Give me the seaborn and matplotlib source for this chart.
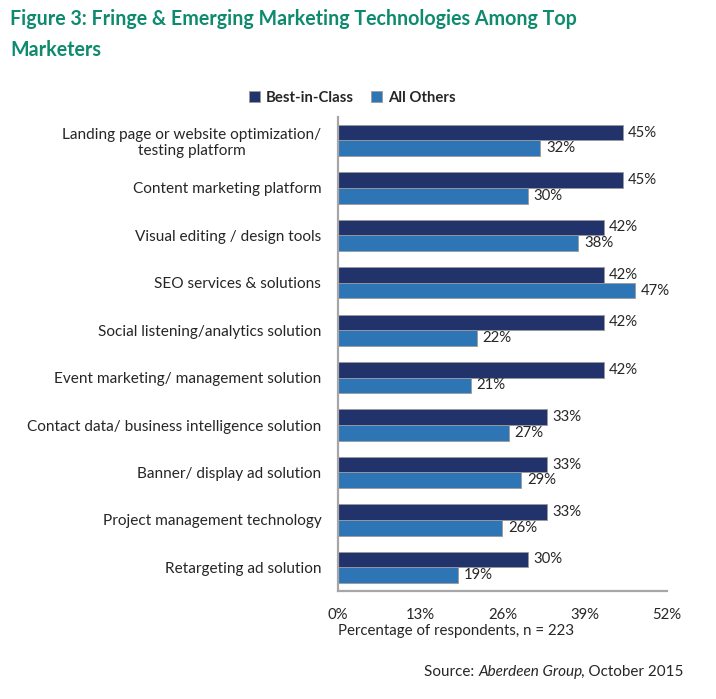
import pandas as pd
import seaborn as sns
import matplotlib.pyplot as plt
from matplotlib.patches import Patch

# Data
categories = [
    "Landing page or website optimization/\ntesting platform",
    "Content marketing platform",
    "Visual editing / design tools",
    "SEO services & solutions",
    "Social listening/analytics solution",
    "Event marketing/ management solution",
    "Contact data/ business intelligence solution",
    "Banner/ display ad solution",
    "Project management technology",
    "Retargeting ad solution",
]
best_in_class = [45, 45, 42, 42, 42, 42, 33, 33, 33, 30]
all_others = [32, 30, 38, 47, 22, 21, 27, 29, 26, 19]
groups = ["Best-in-Class", "All Others"]
x_ticks = [0, 13, 26, 39, 52]

sns.set_theme(style="white")
plt.rcParams['font.family'] = ['Lato', 'DejaVu Sans']

df = pd.DataFrame({
    "Category": categories * 2,
    "Group": [groups[0]] * len(categories) + [groups[1]] * len(categories),
    "Value": best_in_class + all_others,
})

palette = {"Best-in-Class": "#22336B", "All Others": "#2E75B6"}
text_col = "#262626"

fig = plt.figure(figsize=(7.16, 6.99), dpi=100)
ax = fig.add_axes([0.472, 0.1545, 0.4595, 0.6785])

sns.barplot(data=df, y="Category", x="Value", hue="Group", palette=palette,
            orient="h", width=0.66, saturation=1, edgecolor="#9a9a9a",
            linewidth=0.6, legend=False, ax=ax)

for cont in ax.containers:
    ax.bar_label(cont, fmt="%d%%", padding=4, fontsize=10.7, color=text_col)

ax.set_xlim(0, 52)
ax.set_ylim(len(categories) - 0.5, -0.5)
ax.set_xticks(x_ticks)
ax.set_xticklabels([f"{t}%" for t in x_ticks], fontsize=10.7, color=text_col)
ax.tick_params(axis="y", labelsize=11.1, labelcolor=text_col, length=0, pad=12)
ax.tick_params(axis="x", length=0, pad=12)
ax.set_ylabel("")
ax.set_xlabel("Percentage of respondents, n = 223", loc="left", fontsize=10.8,
              color=text_col, labelpad=2)
for lab in ax.get_yticklabels():
    lab.set_horizontalalignment("right")
    lab.set_multialignment("center")

sns.despine(ax=ax)
for s in ("left", "bottom"):
    ax.spines[s].set_color("#a6a6a6")
    ax.spines[s].set_linewidth(1.6)

# legend above the plot
handles = [Patch(facecolor=palette[g], edgecolor="#9a9a9a", linewidth=0.6) for g in groups]
leg = fig.legend(handles, groups, loc="center", bbox_to_anchor=(0.492, 0.860),
                 ncol=2, frameon=False, handlelength=0.7, handleheight=0.7,
                 handletextpad=0.4, columnspacing=1.2,
                 prop={"size": 10.7, "weight": "bold"})
for t in leg.get_texts():
    t.set_color(text_col)

# title
fig.text(0.014, 1 - 9 / 699, "Figure 3: Fringe & Emerging Marketing Technologies Among Top\nMarketers",
         ha="left", va="top", fontsize=14.1, fontweight="bold", color="#0E8A6E",
         linespacing=1.68)

# source line, built right to left so the italic part sits inline
fig.canvas.draw()
r = fig.canvas.get_renderer()
y_src = 1 - 672 / 699
x_right = 683 / 716
pieces = [(", October 2015", "normal", 2), ("Aberdeen Group", "italic", 0), ("Source: ", "normal", 0)]
for txt, style, nudge in pieces:
    t = fig.text(x_right, y_src, txt, ha="right", va="center", fontsize=11,
                 style=style, color=text_col)
    bb = t.get_window_extent(renderer=r)
    x_right = (bb.x0 + nudge) / fig.bbox.width

fig.savefig("out.png", dpi=100)
